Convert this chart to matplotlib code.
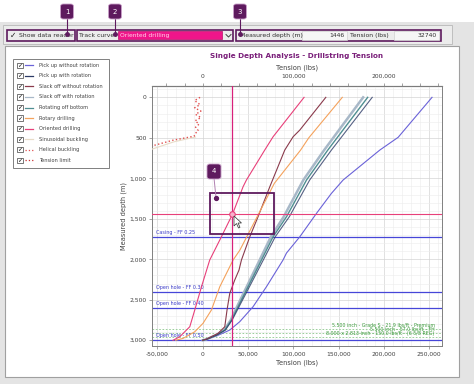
import matplotlib.pyplot as plt
from matplotlib.patches import Rectangle, FancyBboxPatch, Polygon
from matplotlib.lines import Line2D
from matplotlib.ticker import FuncFormatter, MultipleLocator, FixedLocator

W, H = 474, 384

# ---- data: measured depth (m) and tension (lbs) ----
pu_norot_md = [0, 494, 651, 1021, 1186, 1433, 1722, 1923, 2009, 2339, 2586, 2771, 2874, 2948, 3000]
pu_norot_t = [253000, 215600, 195400, 154900, 142000, 125500, 107100, 92400, 88600, 70300, 55500, 40800, 29800, 15100, 0]

band_md = [0, 651, 1021, 1475, 1722, 2009, 2297, 2544, 2750, 2874, 2936, 2989, 3000]
pu_rot_t = [187000, 142000, 118000, 95500, 80000, 66800, 53500, 42000, 32500, 25000, 15600, 4300, 0]
rob_t = [182000, 138000, 114500, 92400, 77600, 64800, 51900, 40800, 31700, 24300, 15100, 4100, 0]
so_rot_t = [177000, 134000, 111000, 89300, 75200, 62800, 50300, 39600, 30900, 23600, 14600, 3900, 0]

so_norot_md = [0, 404, 487, 651, 1104, 1475, 1722, 2009, 2133, 2256, 2421, 2626, 2833, 2915, 2985, 3000]
so_norot_t = [135800, 107100, 99700, 90500, 74000, 61000, 51900, 42700, 40000, 35300, 29800, 26800, 24300, 16900, 4100, 0]

rotary_md = [0, 500, 651, 1062, 1475, 1886, 2009, 2339, 2626, 2791, 2895, 2977, 3000]
rotary_t = [154000, 117000, 108000, 79000, 60000, 41000, 33500, 18800, 9600, 300, -8800, -21700, -30000]

oriented_md = [0, 487, 651, 1021, 1104, 1446, 1762, 2009, 2339, 2626, 2833, 2957, 3000]
oriented_t = [111800, 77600, 68400, 48200, 44500, 32740, 18800, 7700, -1400, -8800, -14300, -25400, -32800]

helical_md = [0, 40, 90, 130, 170, 210, 250, 290, 330, 370, 410, 450, 480, 530, 600]
helical_t = [-3000, -9000, -3000, -9000, -2000, -8000, -2000, -8500, -4000, -8000, -5000, -8500, -9500, -33000, -56000]

sinus_md = [490, 550, 640]
sinus_t = [-8000, -32000, -56000]

ff_md = [1720, 2410, 2600, 3000]
ff_labels = ['Casing - FF 0.25', 'Open hole - FF 0.30', 'Open hole - FF 0.40', 'Open hole - FF 0.50']

pipe_md = [2860, 2915, 2965]
pipe_labels = ['5.500 inch - Grade S - 21.9 lbs/ft - Premium',
               '5.500 inch - 57.0 lbs/ft - FH',
               '8.000 x 2.813 inch - 150.0 lbs/ft - (6 5/8 REG)']

reader_md = 1446
reader_t = 32740

legend_names = ['Pick up without rotation', 'Pick up with rotation', 'Slack off without rotation',
                'Slack off with rotation', 'Rotating off bottom', 'Rotary drilling', 'Oriented drilling',
                'Sinusoidal buckling', 'Helical buckling', 'Tension limit']

c_pu = '#6a62d8'
c_pur = '#2c3a66'
c_so = '#8a3a4c'
c_sor = '#a8b8c8'
c_rob = '#4f8f92'
c_rot = '#f4a25c'
c_ori = '#e8407a'
c_sin = '#e8dcc8'
c_hel = '#e05050'
c_lim = '#c83232'
legend_colors = [c_pu, c_pur, c_so, c_sor, c_rob, c_rot, c_ori, c_sin, c_hel, c_lim]
legend_styles = ['-'] * 8 + [':', ':']

purple = '#5e1a5e'


def fx(x):
    return x / W


def fy(y):
    return 1 - y / H


def prect(x0, y0, x1, y1, **kw):
    r = Rectangle((fx(x0), fy(y1)), (x1 - x0) / W, (y1 - y0) / H, transform=fig.transFigure, **kw)
    fig.add_artist(r)
    return r


def ptext(x, y, s, **kw):
    fig.text(fx(x), fy(y), s, **kw)


fig = plt.figure(figsize=(4.74, 3.84), dpi=100)
fig.patch.set_facecolor('white')

# window background, toolbar, panel
prect(0, 22, 474, 384, facecolor='#e4e4e4', edgecolor='none', zorder=-10)
prect(3, 25, 452, 44, facecolor='#ececec', edgecolor='#b8b8b8', lw=0.6, zorder=-9)
prect(5, 46, 459, 377, facecolor='white', edgecolor='#a0a0a0', lw=0.8, zorder=-9)

# toolbar groups
prect(7, 30, 75, 41, facecolor='none', edgecolor=purple, lw=1.2, zorder=-8)
prect(77, 30, 233, 41, facecolor='none', edgecolor=purple, lw=1.2, zorder=-8)
prect(236, 30, 441, 41, facecolor='none', edgecolor=purple, lw=1.2, zorder=-8)
ptext(9.5, 35.8, '\u2713', fontsize=5.5, color='#202020', va='center', zorder=-7)
ptext(19, 35.8, 'Show data reader', fontsize=4.4, color='#303030', va='center', zorder=-7)
ptext(79, 35.8, 'Track curve:', fontsize=4.4, color='#303030', va='center', zorder=-7)
prect(118, 31.3, 222, 39.3, facecolor='#f0158a', edgecolor='#c00a6a', lw=0.5, zorder=-7)
ptext(120, 35.5, 'Oriented drilling', fontsize=4.3, color='#ffd6ea', va='center', zorder=-6)
fig.add_artist(Line2D([fx(226), fx(228.5), fx(231)], [fy(34.5), fy(37), fy(34.5)],
                      transform=fig.transFigure, color='#404040', lw=0.7, zorder=-6))
ptext(240, 35.8, 'Measured depth (m)', fontsize=4.4, color='#303030', va='center', zorder=-7)
prect(302, 31, 347, 40, facecolor='#f6f6f6', edgecolor='#d0d0d0', lw=0.5, zorder=-7)
ptext(345, 35.8, '1446', fontsize=4.4, color='#303030', va='center', ha='right', zorder=-6)
ptext(350, 35.8, 'Tension (lbs)', fontsize=4.4, color='#303030', va='center', zorder=-7)
prect(394, 31, 439, 40, facecolor='#f6f6f6', edgecolor='#d0d0d0', lw=0.5, zorder=-7)
ptext(437, 35.8, '32740', fontsize=4.4, color='#303030', va='center', ha='right', zorder=-6)

# numbered callouts 1-3
for num, cx in [('1', 67), ('2', 115), ('3', 240)]:
    fig.add_artist(Line2D([fx(cx), fx(cx)], [fy(18), fy(33.5)], transform=fig.transFigure,
                          color=purple, lw=0.8, zorder=6))
    fig.add_artist(Line2D([fx(cx)], [fy(33.5)], transform=fig.transFigure, marker='o',
                          ms=2.5, color=purple, zorder=6))
    fig.add_artist(FancyBboxPatch((fx(cx - 6.5), fy(19)), 13 / W, 15 / H,
                                  boxstyle='round,pad=0,rounding_size=0.006',
                                  transform=fig.transFigure, facecolor=purple,
                                  edgecolor='#c9a0c9', lw=0.6, zorder=6))
    ptext(cx, 11.5, num, fontsize=5, color='white', ha='center', va='center', zorder=7)

# legend with checkboxes
prect(13, 59, 109, 168, facecolor='white', edgecolor='#808080', lw=0.7, zorder=-6)
for i, (name, col, ls) in enumerate(zip(legend_names, legend_colors, legend_styles)):
    yy = 65.3 + i * 10.55
    prect(17, yy - 2.6, 22.5, yy + 2.6, facecolor='white', edgecolor='#404040', lw=0.5, zorder=-5)
    ptext(16.8, yy + 0.2, '\u2713', fontsize=4.5, color='#101010', va='center', zorder=-4)
    fig.add_artist(Line2D([fx(24.5), fx(33)], [fy(yy), fy(yy)], transform=fig.transFigure,
                          color=col, lw=0.9, ls=ls, zorder=-4))
    ptext(39, yy, name, fontsize=3.6, color='#404040', va='center', zorder=-4)

# chart
ax = fig.add_axes([152 / W, 1 - 346 / H, 290 / W, 260 / H])
ax.set_facecolor('white')
ax.set_xlim(-56000, 264000)
ax.set_ylim(3071, -140)

ax.xaxis.set_major_locator(MultipleLocator(50000))
ax.xaxis.set_minor_locator(MultipleLocator(10000))
ax.yaxis.set_major_locator(MultipleLocator(500))
ax.yaxis.set_minor_locator(MultipleLocator(100))
fmt = FuncFormatter(lambda v, p: f'{v:,.0f}')
ax.xaxis.set_major_formatter(fmt)
ax.yaxis.set_major_formatter(fmt)
ax.grid(which='major', color='#d4d4d4', lw=0.5)
ax.grid(which='minor', color='#ececec', lw=0.4)
ax.set_axisbelow(True)
ax.tick_params(which='both', labelsize=4.3, colors='#808080', labelcolor='#404040',
               length=2, width=0.5, pad=2)
ax.tick_params(which='minor', length=0)
for s in ax.spines.values():
    s.set_color('#808080')
    s.set_linewidth(0.7)

ax.set_xlabel('Tension (lbs)', fontsize=4.8, color='#404040', labelpad=2)
ax.set_ylabel('Measured depth (m)', fontsize=4.8, color='#404040', labelpad=2)

top = ax.secondary_xaxis('top')
top.xaxis.set_major_locator(FixedLocator([0, 100000, 200000]))
top.xaxis.set_minor_locator(FixedLocator([-40000, -20000, 20000, 40000, 60000, 80000, 120000,
                                          140000, 160000, 180000, 220000, 240000, 260000]))
top.xaxis.set_major_formatter(fmt)
top.tick_params(which='both', labelsize=4.3, colors='#808080', labelcolor='#404040', length=2,
                width=0.5, pad=3)
top.set_xlabel('Tension (lbs)', fontsize=4.8, color='#404040', labelpad=3)
ax.set_title('Single Depth Analysis - Drillstring Tension', fontsize=5.2, fontweight='bold',
             color='#7a1f7a', pad=20)

# friction factor lines
for md, lab in zip(ff_md, ff_labels):
    ax.axhline(md, color='#4646d8', lw=0.9, zorder=2)
    ax.text(-52000, md - 25, lab, fontsize=3.5, color='#3c3cc8', va='bottom', zorder=3)

# pipe section lines
for md, lab in zip(pipe_md, pipe_labels):
    ax.axhline(md, color='#8cc88c', lw=0.6, ls=(0, (2, 2)), zorder=2)
    ax.text(256000, md - 20, lab, fontsize=3.4, color='#3c9a3c', ha='right', va='bottom', zorder=3)

# curves
ax.plot(sinus_t, sinus_md, color=c_sin, lw=0.8, zorder=3)
ax.plot(helical_t, helical_md, color=c_hel, lw=1.0, ls=':', zorder=3)
ax.plot(pu_norot_t, pu_norot_md, color=c_pu, lw=0.8, zorder=4)
ax.plot(so_rot_t, band_md, color=c_sor, lw=1.8, zorder=4)
ax.plot(rob_t, band_md, color=c_rob, lw=1.0, zorder=4)
ax.plot(pu_rot_t, band_md, color=c_pur, lw=0.8, alpha=0.8, zorder=4)
ax.plot(so_norot_t, so_norot_md, color=c_so, lw=0.8, zorder=4)
ax.plot(rotary_t, rotary_md, color=c_rot, lw=0.8, zorder=4)
ax.plot(oriented_t, oriented_md, color=c_ori, lw=0.8, zorder=4)

# data reader crosshair
ax.axvline(reader_t, color='#d8207a', lw=0.9, zorder=5)
ax.axhline(reader_md, color='#e8407a', lw=0.8, zorder=5)
ax.plot([reader_t], [reader_md], marker='o', ms=4, mfc='#f8b0cc', mec='#e8407a', mew=0.8, zorder=6)

# callout 4 with selection box
prect(210, 193, 274, 234, facecolor='none', edgecolor=purple, lw=1.3, zorder=8)
fig.add_artist(Line2D([fx(214), fx(216)], [fy(178), fy(197.5)], transform=fig.transFigure,
                      color='#b080b0', lw=0.7, zorder=8))
fig.add_artist(Line2D([fx(216)], [fy(197.5)], transform=fig.transFigure, marker='o',
                      ms=2.8, color=purple, zorder=8))
fig.add_artist(FancyBboxPatch((fx(207), fy(179)), 14 / W, 15 / H,
                              boxstyle='round,pad=0,rounding_size=0.006',
                              transform=fig.transFigure, facecolor=purple,
                              edgecolor='#c9a0c9', lw=0.6, zorder=8))
ptext(214, 171.5, '4', fontsize=5, color='white', ha='center', va='center', zorder=9)

# mouse cursor
cur = [(234, 216), (234, 226), (236.5, 223.5), (238.5, 228), (240, 227.3), (238, 223), (241.5, 223)]
fig.add_artist(Polygon([(fx(a), fy(b)) for a, b in cur], closed=True, transform=fig.transFigure,
                       facecolor='white', edgecolor='#303030', lw=0.5, zorder=9))

fig.savefig('out.png', dpi=100)
